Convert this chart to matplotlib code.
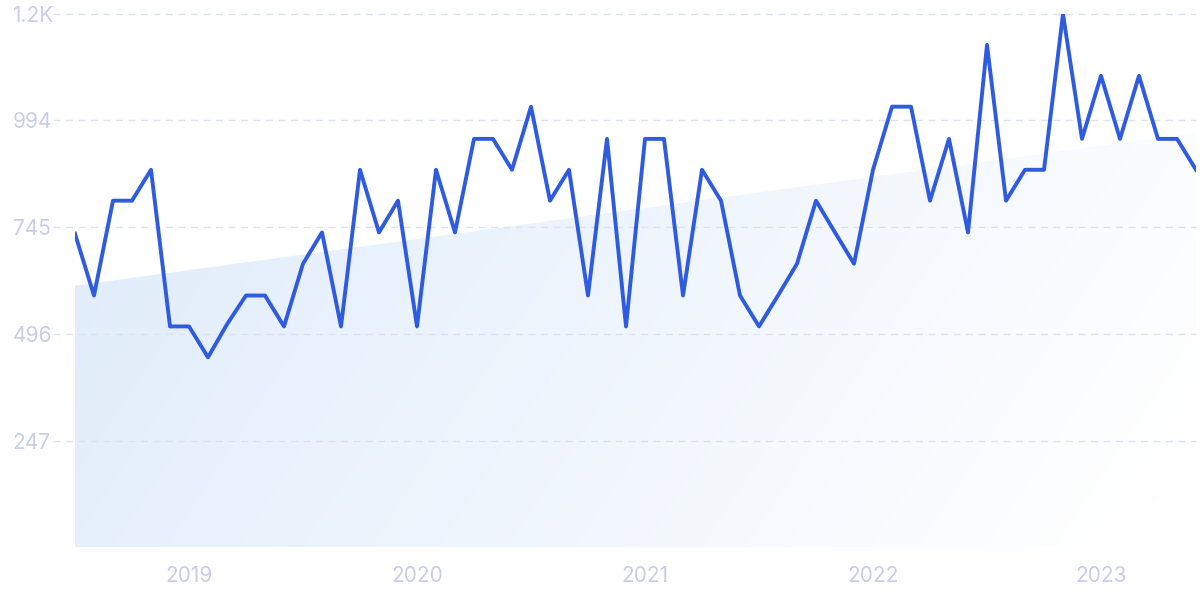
import numpy as np
import matplotlib.pyplot as plt
from matplotlib.patches import Polygon

# monthly values, Jul 2018 - Jun 2023
values = [730, 586, 807, 807, 879, 514, 514, 442, 519, 586, 586, 514,
          660, 733, 514, 879, 733, 807, 514, 879, 733, 951, 951, 879,
          1026, 807, 879, 586, 951, 514, 951, 951, 586, 879, 807, 586,
          514, 586, 660, 807, 733, 660, 879, 1026, 1026, 807, 951, 733,
          1170, 807, 879, 879, 1242, 951, 1098, 951, 1098, 951, 951, 879]
trend_start, trend_end = 609, 965
year_labels = ['2019', '2020', '2021', '2022', '2023']
year_pos = [6, 18, 30, 42, 54]
ytick_vals = [247, 496, 745, 994, 1242]
ytick_labels = ['247', '496', '745', '994', '1.2K']

x = np.arange(len(values))
plt.rcParams['font.family'] = 'Inter'
fig = plt.figure(figsize=(12, 6), dpi=100)
ax = fig.add_axes([75 / 1200, 53 / 600, 1121 / 1200, 533 / 600])
ax.set_xlim(0, len(values) - 1)
ax.set_ylim(0, 1242)

# gradient trend area
grad = np.linspace(0, 1, 256)
gx, gy = np.meshgrid(grad, grad)
t = np.clip(0.8 * gx + 0.25 * gy, 0, 1)
c0 = np.array([0.87, 0.92, 0.985])
c1 = np.array([1.0, 1.0, 1.0])
img = c0[None, None, :] * (1 - t[..., None]) + c1[None, None, :] * t[..., None]
im = ax.imshow(img, extent=[0, len(values) - 1, 0, 1242], origin='upper',
               aspect='auto', zorder=1)
poly = Polygon([[0, 0], [0, trend_start], [len(values) - 1, trend_end],
                [len(values) - 1, 0]], transform=ax.transData, facecolor='none',
               edgecolor='none')
ax.add_patch(poly)
im.set_clip_path(poly)

for v in ytick_vals:
    ax.axhline(v, xmin=-22 / 1121, xmax=1, color='#dde2f3', lw=1,
               ls=(0, (5, 4)), clip_on=False, zorder=2)

ax.plot(x, values, color='#2f5be0', lw=2.8, zorder=3, solid_joinstyle='round')

for s in ax.spines.values():
    s.set_visible(False)
ax.set_yticks(ytick_vals)
ax.set_yticklabels(ytick_labels)
ax.set_xticks(year_pos)
ax.set_xticklabels(year_labels)
ax.tick_params(axis='y', length=0, pad=45, labelsize=15, labelcolor='#c8cdea')
for lbl in ax.get_yticklabels():
    lbl.set_horizontalalignment('left')
ax.tick_params(axis='x', length=0, pad=14, labelsize=15, labelcolor='#c8cdea')

fig.savefig('out.png', dpi=100)
